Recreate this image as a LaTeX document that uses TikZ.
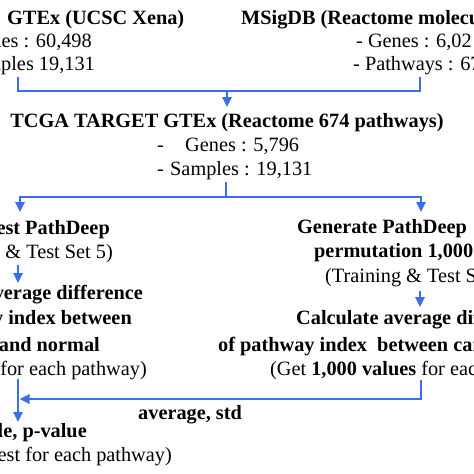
\documentclass[tikz,border=0pt]{standalone}
\usepackage{fontspec}
\setmainfont{Liberation Serif}
\usetikzlibrary{arrows.meta}
\definecolor{flowblue}{RGB}{58,110,235}
\begin{document}
\begin{tikzpicture}[x=1pt,y=-1pt,
  txt/.style={inner sep=0pt, font=\fontsize{20.3pt}{24pt}\selectfont},
  btxt/.style={inner sep=0pt, font=\fontsize{20.3pt}{24pt}\selectfont\bfseries},
  conn/.style={draw=flowblue, line width=2.4pt},
  arr/.style={conn, -{Triangle[length=10pt,width=9pt]}}]
\useasboundingbox (0,0) rectangle (474,474);
\clip (0,0) rectangle (474,474);
\fill[white] (0,0) rectangle (474,474);
% top left
\node[btxt, anchor=base west] (t1) at (7,24) {GTEx (UCSC Xena)};
\node[txt, anchor=base east] (t2) at (92,47) {- Genes : 60,498};
\node[txt, anchor=base east] (t3) at (95,70) {- Samples 19,131};
% top right
\node[btxt, anchor=base west] (r1) at (241,24) {MSigDB (Reactome molecular pathways)};
\node[txt, anchor=base west] (r2) at (356,47) {- Genes : 6,02};
\node[txt, anchor=base west] (r3) at (353,70) {- Pathways : 674};
% merged
\node[btxt, anchor=base] (m1) at (227,127) {TCGA TARGET GTEx (Reactome 674 pathways)};
\node[txt, anchor=base west] (md1) at (157,151) {-};
\node[txt, anchor=base west] (m2) at (185,151) {Genes : 5,796};
\node[txt, anchor=base west] (md2) at (157,175) {-};
\node[txt, anchor=base west] (m3) at (170,175) {Samples : 19,131};
% left column
\node[btxt, anchor=base east] (l1) at (110,234) {Test PathDeep};
\node[txt, anchor=base east] (l2) at (113,258) {(Training \& Test Set 5)};
\node[btxt, anchor=base east] (l3) at (143,299) {Calculate average difference};
\node[btxt, anchor=base east] (l4) at (132,324) {of pathway index between};
\node[btxt, anchor=base east] (l5) at (100,351) {cancer and normal};
\node[txt, anchor=base east] (l6) at (147,375) {(Get 1 value for each pathway)};
\node[btxt, anchor=base east] (b1) at (87,437) {percentile, p-value};
\node[txt, anchor=base east] (b2) at (172,461) {(t-test for each pathway)};
% right column
\node[btxt, anchor=base west] (c1) at (297,233) {Generate PathDeep};
\node[btxt, anchor=base west] (c2) at (314,257) {permutation 1,000};
\node[txt, anchor=base west] (c3) at (325,282) {(Training \& Test Set 5)};
\node[btxt, anchor=base west] (c4) at (296,324) {Calculate average difference};
\node[btxt, anchor=base west] (c5) at (218,351) {of pathway index\ \ between cancer};
\node[txt, anchor=base west] (c6) at (270,375) {(Get \textbf{1,000 values} for each pathway)};
\node[btxt, anchor=base west] (avg) at (138,419) {average, std};
% connector points
\coordinate (a1) at (18,77);
\coordinate (a2) at (18,91);
\coordinate (a3) at (420,91);
\coordinate (a4) at (420,77);
\coordinate (a5) at (227,91);
\coordinate (a6) at (227,107);
\coordinate (s1) at (226,182);
\coordinate (s2) at (226,197);
\coordinate (s3) at (20,197);
\coordinate (s4) at (421,197);
\coordinate (s5) at (20,212);
\coordinate (s6) at (421,212);
\coordinate (p1) at (18,265);
\coordinate (p2) at (18,283);
\coordinate (q1) at (420,291);
\coordinate (q2) at (420,307);
\coordinate (u1) at (18,379);
\coordinate (u2) at (18,422);
\coordinate (v1) at (421,380);
\coordinate (v2) at (421,399);
\coordinate (v3) at (19.5,399);
% connectors
\draw[conn] (a1) -- (a2) -- (a3) -- (a4);
\draw[arr] (a5) -- (a6);
\draw[conn] (s1) -- (s2);
\draw[arr] (s2) -- (s3) -- (s5);
\draw[arr] (s2) -- (s4) -- (s6);
\draw[arr] (p1) -- (p2);
\draw[arr] (q1) -- (q2);
\draw[arr] (u1) -- (u2);
\draw[arr] (v1) -- (v2) -- (v3);
\end{tikzpicture}
\end{document}
